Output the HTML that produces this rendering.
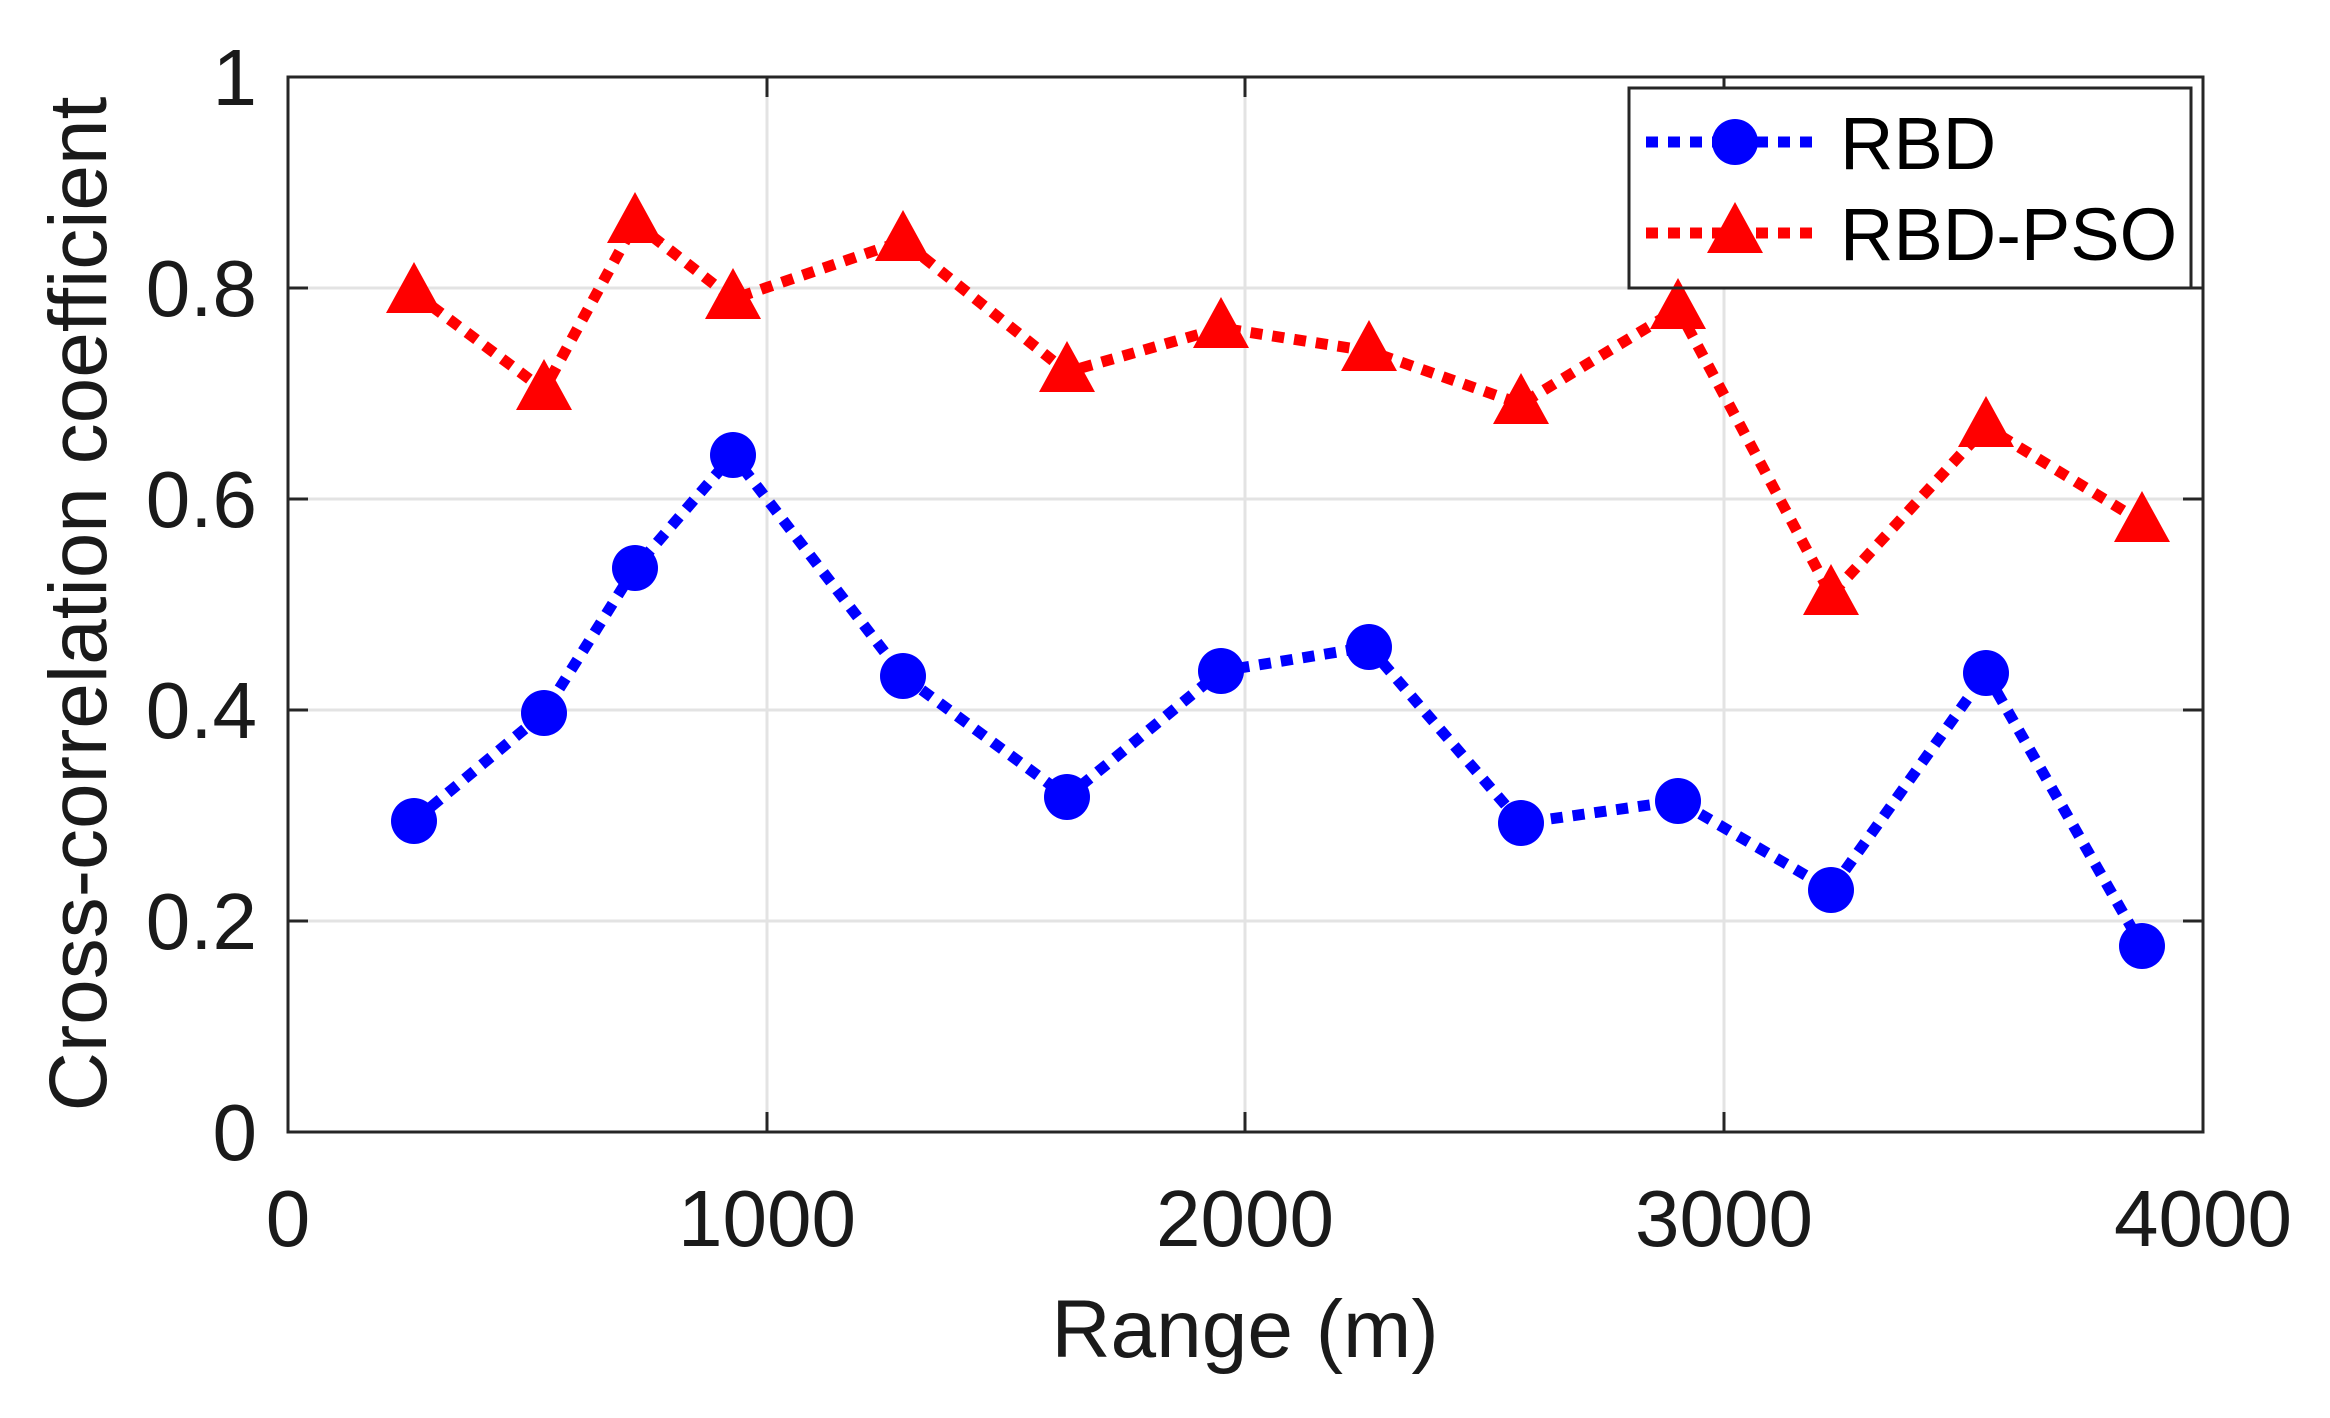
<!DOCTYPE html>
<html><head><style>html,body{margin:0;padding:0;background:#fff}svg{display:block}</style></head>
<body>
<svg width="2330" height="1418" viewBox="0 0 2330 1418" xmlns="http://www.w3.org/2000/svg" font-family="Liberation Sans, Arial, sans-serif">
<rect width="2330" height="1418" fill="#fff"/>
<g stroke="#e3e3e3" stroke-width="3">
<line x1="767" y1="77" x2="767" y2="1132"/><line x1="1245" y1="77" x2="1245" y2="1132"/><line x1="1724" y1="77" x2="1724" y2="1132"/>
<line x1="288" y1="288" x2="2203" y2="288"/><line x1="288" y1="499" x2="2203" y2="499"/><line x1="288" y1="710" x2="2203" y2="710"/><line x1="288" y1="921" x2="2203" y2="921"/>
</g>
<g stroke="#262626" stroke-width="3">
<rect x="288" y="77" width="1915" height="1055" fill="none"/>
<line x1="767" y1="1132" x2="767" y2="1112"/><line x1="1245" y1="1132" x2="1245" y2="1112"/><line x1="1724" y1="1132" x2="1724" y2="1112"/>
<line x1="767" y1="77" x2="767" y2="97"/><line x1="1245" y1="77" x2="1245" y2="97"/><line x1="1724" y1="77" x2="1724" y2="97"/>
<line x1="288" y1="288" x2="308" y2="288"/><line x1="288" y1="499" x2="308" y2="499"/><line x1="288" y1="710" x2="308" y2="710"/><line x1="288" y1="921" x2="308" y2="921"/>
<line x1="2203" y1="288" x2="2183" y2="288"/><line x1="2203" y1="499" x2="2183" y2="499"/><line x1="2203" y1="710" x2="2183" y2="710"/><line x1="2203" y1="921" x2="2183" y2="921"/>
</g>
<g font-size="80" fill="#1a1a1a" text-anchor="end">
<text x="257" y="105">1</text><text x="257" y="316">0.8</text><text x="257" y="527">0.6</text><text x="257" y="738">0.4</text><text x="257" y="949">0.2</text><text x="257" y="1160">0</text>
</g>
<g font-size="80" fill="#1a1a1a" text-anchor="middle">
<text x="288" y="1246">0</text><text x="767" y="1246">1000</text><text x="1245" y="1246">2000</text><text x="1724" y="1246">3000</text><text x="2203" y="1246">4000</text>
</g>
<text x="1245" y="1357" font-size="82" fill="#1a1a1a" text-anchor="middle">Range (m)</text>
<text transform="translate(106,604) rotate(-90)" font-size="82" fill="#1a1a1a" text-anchor="middle">Cross-correlation coefficient</text>
<polyline fill="none" stroke="#ff0000" stroke-width="11" stroke-dasharray="12 10" points="414,293 544,390 635,223 733,299 903,241 1067,372 1221,328 1369,351 1521,404 1678,309 1831,595 1986,427 2142,522"/>
<polyline fill="none" stroke="#0000ff" stroke-width="11" stroke-dasharray="12 10" points="414,821 544,713 635,568 733,455 903,676 1067,797 1221,671 1369,647 1521,823 1678,801 1831,890 1986,673 2142,946"/>
<g fill="#0000ff">
<circle cx="414" cy="821" r="23"/><circle cx="544" cy="713" r="23"/><circle cx="635" cy="568" r="23"/><circle cx="733" cy="455" r="23"/><circle cx="903" cy="676" r="23"/><circle cx="1067" cy="797" r="23"/><circle cx="1221" cy="671" r="23"/><circle cx="1369" cy="647" r="23"/><circle cx="1521" cy="823" r="23"/><circle cx="1678" cy="801" r="23"/><circle cx="1831" cy="890" r="23"/><circle cx="1986" cy="673" r="23"/><circle cx="2142" cy="946" r="23"/>
</g>
<defs><path id="tri" d="M0,-31 L28,20 L-28,20 Z" fill="#ff0000"/></defs>
<use href="#tri" x="414" y="293"/><use href="#tri" x="544" y="390"/><use href="#tri" x="635" y="223"/><use href="#tri" x="733" y="299"/><use href="#tri" x="903" y="241"/><use href="#tri" x="1067" y="372"/><use href="#tri" x="1221" y="328"/><use href="#tri" x="1369" y="351"/><use href="#tri" x="1521" y="404"/><use href="#tri" x="1831" y="595"/><use href="#tri" x="1986" y="427"/><use href="#tri" x="2142" y="522"/>
<rect x="1629" y="88" width="562" height="200" fill="#fff" stroke="#262626" stroke-width="3"/>
<use href="#tri" x="1678" y="309"/>
<rect x="1629" y="88" width="562" height="200" fill="none" stroke="#262626" stroke-width="3"/>
<line x1="1646" y1="142" x2="1820" y2="142" stroke="#0000ff" stroke-width="11" stroke-dasharray="12 10"/>
<circle cx="1735" cy="142" r="23" fill="#0000ff"/>
<line x1="1646" y1="233" x2="1820" y2="233" stroke="#ff0000" stroke-width="11" stroke-dasharray="12 10"/>
<use href="#tri" x="1735" y="233"/>
<g font-size="74" fill="#000"><text x="1840" y="169">RBD</text><text x="1840" y="260">RBD-PSO</text></g>
</svg>
</body></html>
